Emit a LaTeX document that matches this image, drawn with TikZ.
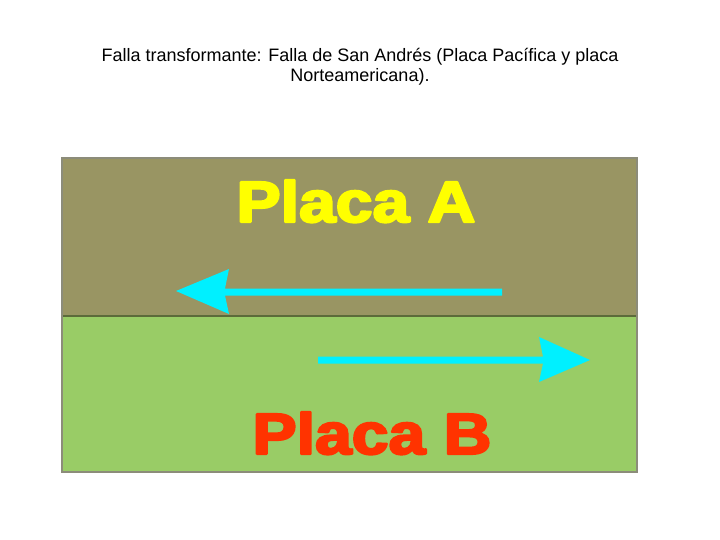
\documentclass[tikz,border=0pt]{standalone}
\usepackage{fontspec}
\setmainfont{Liberation Sans}
\definecolor{plateA}{HTML}{999563}
\definecolor{plateB}{HTML}{99CC66}
\definecolor{faultline}{HTML}{5C6B3A}
\definecolor{frameg}{HTML}{8C8C7A}
\definecolor{arrowc}{HTML}{00F0FF}
\definecolor{txtA}{HTML}{FFFF00}
\definecolor{txtB}{HTML}{FF3300}
\newcommand{\heavytext}[1]{\special{pdf:literal direct 2 Tr 2.2 w 1 j}#1\special{pdf:literal direct 0 Tr}}
\tikzset{
  plate label/.style={font=\fontsize{58}{58}\selectfont\bfseries, inner sep=0pt, anchor=base, xscale=1.14},
  title text/.style={font=\fontsize{18}{20}\selectfont, align=center, inner sep=0pt, anchor=base},
  motion arrow/.style={fill=arrowc, draw=none}
}
\begin{document}
\begin{tikzpicture}[x=1pt,y=-1pt]
\useasboundingbox (0,0) rectangle (720,540);
\node[title text] (title) at (360,62) {Falla transformante: Falla de San Andrés (Placa Pacífica y placa};
\node[title text] (title2) at (360,82) {Norteamericana).};
% plates
\fill[plateA] (62,158) rectangle (637,316);
\fill[plateB] (62,316) rectangle (637,472);
\draw[faultline, line width=2.5pt] (62,316) -- (637,316);
\draw[frameg, line width=1.5pt] (62,158) rectangle (637,472);
% labels
\node[plate label, text=txtA] (pa) at (356,222) {\heavytext{Placa A}};
\node[plate label, text=txtB] (pb) at (372,454) {\heavytext{Placa B}};
% arrow A (left)
\fill[motion arrow] (176,291) -- (229,269) -- (225,288.5) -- (502,288.5) -- (502,295.5) -- (225,295.5) -- (229,314) -- cycle;
% arrow B (right)
\fill[motion arrow] (590,360) -- (539,337) -- (543,356.5) -- (318,356.5) -- (318,363.5) -- (543,363.5) -- (539,382) -- cycle;
\end{tikzpicture}
\end{document}
